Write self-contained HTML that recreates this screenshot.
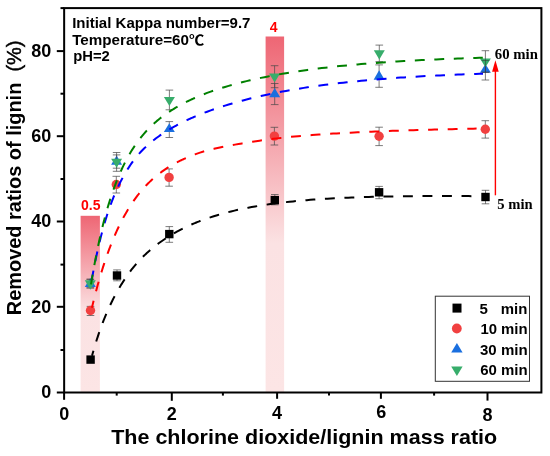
<!DOCTYPE html>
<html><head><meta charset="utf-8"><title>Removed ratios of lignin</title>
<style>html,body{margin:0;padding:0;background:#fff}svg{display:block}text{font-family:"Liberation Sans","Noto Sans CJK SC",sans-serif;font-weight:bold;fill:#000}.ser{font-family:"Liberation Serif",serif}</style></head><body>
<svg width="550" height="456" viewBox="0 0 550 456">
<defs><linearGradient id="g" x1="0" y1="0" x2="0" y2="1"><stop offset="0" stop-color="#ee6674"/><stop offset="0.58" stop-color="#fbe2e3"/><stop offset="1" stop-color="#fce5e5"/></linearGradient><linearGradient id="g2" x1="0" y1="0" x2="0" y2="1"><stop offset="0" stop-color="#ee6674"/><stop offset="0.54" stop-color="#fbe2e3"/><stop offset="1" stop-color="#fce5e5"/></linearGradient></defs>
<rect width="550" height="456" fill="#fff"/>
<rect x="80.6" y="215.8" width="19.3" height="176.7" fill="url(#g2)"/>
<rect x="265.6" y="36.5" width="18.5" height="356" fill="url(#g)"/>
<g stroke="#000" stroke-width="2" fill="none">
<rect x="64.15" y="8.1" width="477.25" height="384.4"/>
<line x1="56.8" y1="51.1" x2="64.15" y2="51.1"/>
<line x1="56.8" y1="136.2" x2="64.15" y2="136.2"/>
<line x1="56.8" y1="221.5" x2="64.15" y2="221.5"/>
<line x1="56.8" y1="306.8" x2="64.15" y2="306.8"/>
<line x1="56.8" y1="392.5" x2="64.15" y2="392.5"/>
<line x1="60.5" y1="8.1" x2="64.15" y2="8.1"/>
<line x1="60.5" y1="93.7" x2="64.15" y2="93.7"/>
<line x1="60.5" y1="179.0" x2="64.15" y2="179.0"/>
<line x1="60.5" y1="264.6" x2="64.15" y2="264.6"/>
<line x1="60.5" y1="350.0" x2="64.15" y2="350.0"/>
<line x1="64.1" y1="392.5" x2="64.1" y2="399.8"/>
<line x1="171.8" y1="392.5" x2="171.8" y2="400.8"/>
<line x1="277.1" y1="392.5" x2="277.1" y2="398.8"/>
<line x1="380.9" y1="392.5" x2="380.9" y2="398.8"/>
<line x1="487.5" y1="392.5" x2="487.5" y2="400.6"/>
<line x1="116.7" y1="392.5" x2="116.7" y2="395.6"/>
<line x1="222.9" y1="392.5" x2="222.9" y2="395.6"/>
<line x1="329" y1="392.5" x2="329" y2="395.6"/>
<line x1="434.1" y1="392.5" x2="434.1" y2="395.6"/>
</g>
<g font-size="18" text-anchor="end">
<text x="51.3" y="56.8">80</text>
<text x="51.3" y="142.0">60</text>
<text x="51.3" y="227.4">40</text>
<text x="51.3" y="312.6">20</text>
<text x="51.3" y="398.3">0</text>
</g>
<g font-size="18" text-anchor="middle">
<text x="64.2" y="419.7">0</text>
<text x="171.8" y="420.4">2</text>
<text x="277.1" y="418.5">4</text>
<text x="381.2" y="418.3">6</text>
<text x="487.6" y="420.8">8</text>
</g>
<text x="111.2" y="443.9" font-size="20.5" textLength="386" lengthAdjust="spacingAndGlyphs">The chlorine dioxide/lignin mass ratio</text>
<text transform="translate(20.8 315.2) rotate(-90)" font-size="20.4" textLength="274.6" lengthAdjust="spacingAndGlyphs" style="white-space:pre" xml:space="preserve">Removed ratios of lignin  <tspan font-weight="normal" stroke="#000" stroke-width="0.45">(%)</tspan></text>
<g font-size="14">
<text x="72.17" y="28.0" textLength="178.3" lengthAdjust="spacingAndGlyphs">Initial Kappa number=9.7</text>
<text x="72.17" y="44.8" textLength="132" lengthAdjust="spacingAndGlyphs">Temperature=60℃</text>
<text x="73.16" y="61.0" textLength="36.6" lengthAdjust="spacingAndGlyphs">pH=2</text>
<text x="90.7" y="209.5" text-anchor="middle" style="fill:#ff0000">0.5</text>
<text x="273.7" y="31.7" text-anchor="middle" style="fill:#ff0000">4</text>
</g>
<rect x="86.40" y="355.40" width="8.4" height="8.4" fill="#000"/>
<path d="M117 269.9V280.8M113.2 269.9H120.8M113.2 280.8H120.8" stroke="#484848" stroke-opacity="0.8" stroke-width="0.9" fill="none"/>
<rect x="112.80" y="271.30" width="8.4" height="8.4" fill="#000"/>
<path d="M169.3 226.6V242.3M165.5 226.6H173.10000000000002M165.5 242.3H173.10000000000002" stroke="#484848" stroke-opacity="0.8" stroke-width="0.9" fill="none"/>
<rect x="165.10" y="229.90" width="8.4" height="8.4" fill="#000"/>
<path d="M274.8 194.5V204.8M271.0 194.5H278.6M271.0 204.8H278.6" stroke="#484848" stroke-opacity="0.8" stroke-width="0.9" fill="none"/>
<rect x="270.60" y="195.90" width="8.4" height="8.4" fill="#000"/>
<path d="M379.1 186.4V198.7M375.3 186.4H382.90000000000003M375.3 198.7H382.90000000000003" stroke="#484848" stroke-opacity="0.8" stroke-width="0.9" fill="none"/>
<rect x="374.90" y="188.10" width="8.4" height="8.4" fill="#000"/>
<path d="M485.5 190.3V203.8M481.7 190.3H489.3M481.7 203.8H489.3" stroke="#484848" stroke-opacity="0.8" stroke-width="0.9" fill="none"/>
<rect x="481.30" y="192.80" width="8.4" height="8.4" fill="#000"/>
<path d="M90.5 306.4V315.5M86.7 306.4H94.3M86.7 315.5H94.3" stroke="#484848" stroke-opacity="0.8" stroke-width="0.9" fill="none"/>
<circle cx="90.5" cy="310.5" r="4.7" fill="#f14040"/>
<path d="M116.3 176.3V193M112.5 176.3H120.1M112.5 193H120.1" stroke="#484848" stroke-opacity="0.8" stroke-width="0.9" fill="none"/>
<circle cx="116.3" cy="184.5" r="4.7" fill="#f14040"/>
<path d="M169.1 168.9V186.2M165.29999999999998 168.9H172.9M165.29999999999998 186.2H172.9" stroke="#484848" stroke-opacity="0.8" stroke-width="0.9" fill="none"/>
<circle cx="169.1" cy="177.4" r="4.7" fill="#f14040"/>
<path d="M274.4 127.3V145M270.59999999999997 127.3H278.2M270.59999999999997 145H278.2" stroke="#484848" stroke-opacity="0.8" stroke-width="0.9" fill="none"/>
<circle cx="274.4" cy="136.1" r="4.7" fill="#f14040"/>
<path d="M379.1 127.2V145.6M375.3 127.2H382.90000000000003M375.3 145.6H382.90000000000003" stroke="#484848" stroke-opacity="0.8" stroke-width="0.9" fill="none"/>
<circle cx="379.1" cy="136.3" r="4.7" fill="#f14040"/>
<path d="M485.3 120.7V138.1M481.5 120.7H489.1M481.5 138.1H489.1" stroke="#484848" stroke-opacity="0.8" stroke-width="0.9" fill="none"/>
<circle cx="485.3" cy="129.3" r="4.7" fill="#f14040"/>
<path d="M90.3 279V287.8M86.5 279H94.1M86.5 287.8H94.1" stroke="#484848" stroke-opacity="0.8" stroke-width="0.9" fill="none"/>
<path d="M90.3 277.7L95.8 286.9H84.8Z" fill="#1a6fdf"/>
<path d="M116.6 152.5V168.2M112.8 152.5H120.39999999999999M112.8 168.2H120.39999999999999" stroke="#484848" stroke-opacity="0.8" stroke-width="0.9" fill="none"/>
<path d="M116.6 155.4L122.1 164.7H111.1Z" fill="#1a6fdf"/>
<path d="M169.3 121.6V137.5M165.5 121.6H173.10000000000002M165.5 137.5H173.10000000000002" stroke="#484848" stroke-opacity="0.8" stroke-width="0.9" fill="none"/>
<path d="M169.3 123.2L174.8 132H163.8Z" fill="#1a6fdf"/>
<path d="M274.7 83.5V104.6M270.9 83.5H278.5M270.9 104.6H278.5" stroke="#484848" stroke-opacity="0.8" stroke-width="0.9" fill="none"/>
<path d="M274.7 87.9L280.2 97.2H269.2Z" fill="#1a6fdf"/>
<path d="M379.1 64.9V87.3M375.3 64.9H382.90000000000003M375.3 87.3H382.90000000000003" stroke="#484848" stroke-opacity="0.8" stroke-width="0.9" fill="none"/>
<path d="M379.1 70.3L384.6 79.7H373.6Z" fill="#1a6fdf"/>
<path d="M485.4 60V80M481.59999999999997 60H489.2M481.59999999999997 80H489.2" stroke="#484848" stroke-opacity="0.8" stroke-width="0.9" fill="none"/>
<path d="M485.4 64L490.9 72.8H479.9Z" fill="#1a6fdf"/>
<path d="M90.3 279.5V288M86.5 279.5H94.1M86.5 288H94.1" stroke="#484848" stroke-opacity="0.8" stroke-width="0.9" fill="none"/>
<path d="M90.3 289.7L95.8 280.2H84.8Z" fill="#37ad6b"/>
<path d="M116.6 154.9V171.3M112.8 154.9H120.39999999999999M112.8 171.3H120.39999999999999" stroke="#484848" stroke-opacity="0.8" stroke-width="0.9" fill="none"/>
<path d="M116.6 167.7L122.1 158.7H111.1Z" fill="#37ad6b"/>
<path d="M169.4 90.1V109.8M165.6 90.1H173.20000000000002M165.6 109.8H173.20000000000002" stroke="#484848" stroke-opacity="0.8" stroke-width="0.9" fill="none"/>
<path d="M169.4 106.1L174.9 97H163.9Z" fill="#37ad6b"/>
<path d="M274.6 65.7V87.7M270.8 65.7H278.40000000000003M270.8 87.7H278.40000000000003" stroke="#484848" stroke-opacity="0.8" stroke-width="0.9" fill="none"/>
<path d="M274.6 82.5L280.1 73.6H269.1Z" fill="#37ad6b"/>
<path d="M379.3 45.1V61.6M375.5 45.1H383.1M375.5 61.6H383.1" stroke="#484848" stroke-opacity="0.8" stroke-width="0.9" fill="none"/>
<path d="M379.3 59.4L384.8 50.3H373.8Z" fill="#37ad6b"/>
<path d="M485.4 50.7V72.3M481.59999999999997 50.7H489.2M481.59999999999997 72.3H489.2" stroke="#484848" stroke-opacity="0.8" stroke-width="0.9" fill="none"/>
<path d="M485.4 67.3L490.9 58.6H479.9Z" fill="#37ad6b"/>
<path d="M485.5 58.6V72.8M481.7 60.5H489.3M481.7 72.2H489.3" stroke="#303030" stroke-opacity="0.55" stroke-width="0.9" fill="none"/>
<path d="M92.00 355.81 L92.72 353.21 L93.45 350.67 L94.17 348.19 L94.90 345.76 L95.62 343.39 L96.35 341.07 L97.07 338.80 L97.80 336.58 L98.52 334.41 L99.25 332.29 L99.97 330.21 L100.70 328.17 L101.42 326.18 L102.15 324.23 L102.87 322.32 L103.60 320.46 L104.32 318.62 L105.05 316.83 L105.77 315.07 L106.50 313.35 L107.22 311.66 L107.95 310.01 L108.67 308.39 L109.40 306.80 L110.12 305.24 L110.85 303.71 L111.57 302.21 L112.30 300.74 L113.02 299.29 L113.74 297.87 L114.47 296.48 L115.19 295.12 L115.92 293.78 L116.64 292.46 L117.37 291.17 L118.09 289.90 L118.82 288.65 L119.54 287.42 L120.27 286.22 L120.99 285.04 L121.72 283.87 L122.44 282.73 L123.17 281.61 L123.89 280.50 L124.62 279.42 L125.34 278.33 L126.07 277.25 L126.79 276.19 L127.52 275.14 L128.24 274.11 L128.97 273.10 L129.69 272.10 L130.42 271.12 L131.14 270.17 L131.87 269.23 L132.59 268.31 L133.32 267.40 L134.04 266.51 L134.77 265.64 L135.49 264.78 L136.21 263.93 L136.94 263.10 L137.66 262.29 L138.39 261.48 L139.11 260.69 L139.84 259.92 L140.56 259.16 L141.29 258.42 L142.01 257.69 L142.74 256.97 L143.46 256.26 L144.19 255.56 L144.91 254.87 L145.64 254.18 L146.36 253.51 L147.09 252.85 L147.81 252.19 L148.54 251.55 L149.26 250.91 L149.99 250.28 L150.71 249.66 L151.44 249.04 L152.16 248.44 L152.89 247.84 L153.61 247.25 L154.34 246.67 L155.06 246.09 L155.79 245.52 L156.51 244.96 L157.23 244.41 L157.96 243.86 L158.68 243.32 L159.41 242.79 L160.13 242.26 L160.86 241.74 L161.58 241.23 L162.31 240.72 L163.03 240.22 L163.76 239.72 L164.48 239.23 L165.21 238.75 L165.93 238.27 L166.66 237.80 L167.38 237.33 L168.11 236.87 L168.83 236.42 L169.56 235.97 L170.28 235.52 L171.01 235.08 L171.73 234.65 L172.46 234.22 L173.18 233.79 L173.91 233.37 L174.63 232.96 L175.36 232.55 L176.08 232.14 L176.81 231.74 L177.53 231.35 L178.26 230.95 L178.98 230.57 L179.70 230.18 L180.43 229.81 L181.15 229.43 L181.88 229.06 L182.60 228.70 L183.33 228.33 L184.05 227.98 L184.78 227.62 L185.50 227.27 L186.23 226.93 L186.95 226.59 L187.68 226.25 L188.40 225.91 L189.13 225.58 L189.85 225.25 L190.58 224.93 L191.30 224.61 L192.03 224.29 L192.75 223.98 L193.48 223.67 L194.20 223.37 L194.93 223.06 L195.65 222.76 L196.38 222.47 L197.10 222.17 L197.83 221.88 L198.55 221.60 L199.28 221.31 L200.00 221.03 L203.45 219.74 L206.89 218.51 L210.34 217.34 L213.78 216.23 L217.23 215.18 L220.67 214.17 L224.12 213.22 L227.56 212.31 L231.01 211.44 L234.46 210.62 L237.90 209.84 L241.35 209.09 L244.79 208.39 L248.24 207.71 L251.68 207.07 L255.13 206.46 L258.57 205.88 L262.02 205.32 L265.47 204.79 L268.91 204.29 L272.36 203.81 L275.80 203.36 L279.25 202.93 L282.69 202.51 L286.14 202.12 L289.58 201.75 L293.03 201.39 L296.48 201.06 L299.92 200.74 L303.37 200.43 L306.81 200.14 L310.26 199.87 L313.70 199.61 L317.15 199.37 L320.59 199.13 L324.04 198.91 L327.49 198.70 L330.93 198.50 L334.38 198.32 L337.82 198.14 L341.27 197.97 L344.71 197.81 L348.16 197.66 L351.61 197.53 L355.05 197.40 L358.50 197.27 L361.94 197.15 L365.39 197.04 L368.83 196.94 L372.28 196.85 L375.72 196.76 L379.17 196.68 L382.62 196.61 L386.06 196.53 L389.51 196.46 L392.95 196.41 L396.40 196.36 L399.84 196.31 L403.29 196.27 L406.73 196.23 L410.18 196.19 L413.63 196.15 L417.07 196.13 L420.52 196.11 L423.96 196.09 L427.41 196.08 L430.85 196.06 L434.30 196.05 L437.74 196.04 L441.19 196.04 L444.64 196.04 L448.08 196.05 L451.53 196.05 L454.97 196.06 L458.42 196.08 L461.86 196.09 L465.31 196.10 L468.75 196.12 L472.20 196.13" fill="none" stroke="#000000" stroke-width="2.0" stroke-dasharray="9.9 9.622" stroke-dashoffset="4.57"/>
<path d="M91.90 307.71 L92.63 304.68 L93.35 301.71 L94.08 298.80 L94.80 295.95 L95.53 293.15 L96.25 290.40 L96.98 287.70 L97.70 285.06 L98.43 282.47 L99.16 279.92 L99.88 277.43 L100.61 274.98 L101.33 272.57 L102.06 270.22 L102.78 267.91 L103.51 265.64 L104.23 263.41 L104.96 261.23 L105.68 259.09 L106.41 256.98 L107.14 254.92 L107.86 252.90 L108.59 250.91 L109.31 248.96 L110.04 247.05 L110.76 245.17 L111.49 243.33 L112.21 241.52 L112.94 239.75 L113.67 238.01 L114.39 236.30 L115.12 234.63 L115.84 232.98 L116.57 231.37 L117.29 229.78 L118.02 228.22 L118.74 226.70 L119.47 225.20 L120.19 223.73 L120.92 222.28 L121.65 220.87 L122.37 219.47 L123.10 218.11 L123.82 216.77 L124.55 215.45 L125.27 214.16 L126.00 212.89 L126.72 211.64 L127.45 210.42 L128.18 209.21 L128.90 208.03 L129.63 206.88 L130.35 205.74 L131.08 204.62 L131.80 203.52 L132.53 202.45 L133.25 201.39 L133.98 200.35 L134.70 199.33 L135.43 198.33 L136.16 197.34 L136.88 196.37 L137.61 195.42 L138.33 194.49 L139.06 193.57 L139.78 192.67 L140.51 191.79 L141.23 190.92 L141.96 190.07 L142.69 189.24 L143.41 188.42 L144.14 187.61 L144.86 186.82 L145.59 186.04 L146.31 185.27 L147.04 184.52 L147.76 183.78 L148.49 183.05 L149.21 182.34 L149.94 181.64 L150.67 180.95 L151.39 180.27 L152.12 179.61 L152.84 178.95 L153.57 178.31 L154.29 177.67 L155.02 177.05 L155.74 176.44 L156.47 175.84 L157.20 175.25 L157.92 174.67 L158.65 174.10 L159.37 173.53 L160.10 172.98 L160.82 172.44 L161.55 171.90 L162.27 171.38 L163.00 170.86 L163.72 170.35 L164.45 169.85 L165.18 169.36 L165.90 168.88 L166.63 168.40 L167.35 167.93 L168.08 167.47 L168.80 167.02 L169.53 166.57 L170.25 166.13 L170.98 165.69 L171.71 165.27 L172.43 164.84 L173.16 164.43 L173.88 164.02 L174.61 163.62 L175.33 163.22 L176.06 162.83 L176.78 162.45 L177.51 162.07 L178.23 161.70 L178.96 161.33 L179.69 160.97 L180.41 160.61 L181.14 160.26 L181.86 159.92 L182.59 159.58 L183.31 159.24 L184.04 158.91 L184.76 158.59 L185.49 158.27 L186.22 157.95 L186.94 157.64 L187.67 157.33 L188.39 157.03 L189.12 156.74 L189.84 156.44 L190.57 156.15 L191.29 155.87 L192.02 155.59 L192.74 155.29 L193.47 155.00 L194.20 154.71 L194.92 154.43 L195.65 154.15 L196.37 153.88 L197.10 153.62 L197.82 153.36 L198.55 153.11 L199.27 152.86 L200.00 152.61 L203.50 151.51 L207.00 150.52 L210.50 149.64 L214.01 148.82 L217.51 148.03 L221.01 147.29 L224.51 146.59 L228.01 145.93 L231.51 145.26 L235.01 144.63 L238.51 144.03 L242.02 143.45 L245.52 142.85 L249.02 142.28 L252.52 141.74 L256.02 141.21 L259.52 140.68 L263.02 140.18 L266.52 139.70 L270.03 139.23 L273.53 138.79 L277.03 138.37 L280.53 137.97 L284.03 137.58 L287.53 137.21 L291.03 136.86 L294.53 136.53 L298.04 136.21 L301.54 135.89 L305.04 135.59 L308.54 135.31 L312.04 135.04 L315.54 134.78 L319.04 134.53 L322.54 134.28 L326.05 134.05 L329.55 133.83 L333.05 133.61 L336.55 133.41 L340.05 133.20 L343.55 133.01 L347.05 132.82 L350.55 132.64 L354.06 132.46 L357.56 132.29 L361.06 132.13 L364.56 131.97 L368.06 131.81 L371.56 131.66 L375.06 131.52 L378.56 131.38 L382.07 131.24 L385.57 131.11 L389.07 130.98 L392.57 130.85 L396.07 130.73 L399.57 130.61 L403.07 130.50 L406.57 130.38 L410.08 130.28 L413.58 130.17 L417.08 130.07 L420.58 129.96 L424.08 129.86 L427.58 129.77 L431.08 129.67 L434.58 129.58 L438.09 129.49 L441.59 129.40 L445.09 129.31 L448.59 129.23 L452.09 129.14 L455.59 129.06 L459.09 128.98 L462.59 128.90 L466.10 128.83 L469.60 128.75 L473.10 128.68 L476.60 128.61" fill="none" stroke="#ff0000" stroke-width="2.0" stroke-dasharray="9.9 9.708" stroke-dashoffset="2.65"/>
<path d="M90.80 285.35 L91.53 281.13 L92.27 277.02 L93.00 273.04 L93.73 269.17 L94.46 265.41 L95.20 261.77 L95.93 258.22 L96.66 254.78 L97.40 251.44 L98.13 248.19 L98.86 245.03 L99.59 241.96 L100.33 238.98 L101.06 236.08 L101.79 233.26 L102.53 230.52 L103.26 227.85 L103.99 225.26 L104.72 222.73 L105.46 220.28 L106.19 217.89 L106.92 215.56 L107.66 213.30 L108.39 211.09 L109.12 208.95 L109.86 206.86 L110.59 204.82 L111.32 202.84 L112.05 200.91 L112.79 199.03 L113.52 197.19 L114.25 195.40 L114.99 193.66 L115.72 191.96 L116.45 190.30 L117.18 188.68 L117.92 187.10 L118.65 185.56 L119.38 184.06 L120.12 182.59 L120.85 181.16 L121.58 179.76 L122.31 178.39 L123.05 177.06 L123.78 175.75 L124.51 174.48 L125.25 173.22 L125.98 171.96 L126.71 170.73 L127.44 169.53 L128.18 168.36 L128.91 167.21 L129.64 166.10 L130.38 165.00 L131.11 163.94 L131.84 162.89 L132.57 161.88 L133.31 160.88 L134.04 159.90 L134.77 158.95 L135.51 158.01 L136.24 157.10 L136.97 156.21 L137.70 155.33 L138.44 154.47 L139.17 153.63 L139.90 152.81 L140.64 152.02 L141.37 151.25 L142.10 150.50 L142.83 149.75 L143.57 149.03 L144.30 148.31 L145.03 147.61 L145.77 146.92 L146.50 146.24 L147.23 145.57 L147.97 144.91 L148.70 144.26 L149.43 143.63 L150.16 143.00 L150.90 142.39 L151.63 141.78 L152.36 141.18 L153.10 140.59 L153.83 140.01 L154.56 139.44 L155.29 138.88 L156.03 138.32 L156.76 137.78 L157.49 137.24 L158.23 136.71 L158.96 136.19 L159.69 135.67 L160.42 135.16 L161.16 134.66 L161.89 134.16 L162.62 133.67 L163.36 133.19 L164.09 132.71 L164.82 132.24 L165.55 131.78 L166.29 131.32 L167.02 130.87 L167.75 130.42 L168.49 129.98 L169.22 129.54 L169.95 129.11 L170.68 128.67 L171.42 128.24 L172.15 127.82 L172.88 127.40 L173.62 126.99 L174.35 126.58 L175.08 126.17 L175.81 125.77 L176.55 125.37 L177.28 124.98 L178.01 124.59 L178.75 124.20 L179.48 123.82 L180.21 123.44 L180.94 123.07 L181.68 122.70 L182.41 122.33 L183.14 121.97 L183.88 121.61 L184.61 121.26 L185.34 120.90 L186.08 120.55 L186.81 120.21 L187.54 119.86 L188.27 119.52 L189.01 119.19 L189.74 118.85 L190.47 118.52 L191.21 118.20 L191.94 117.87 L192.67 117.55 L193.40 117.23 L194.14 116.91 L194.87 116.60 L195.60 116.29 L196.34 115.98 L197.07 115.67 L197.80 115.37 L198.53 115.07 L199.27 114.77 L200.00 114.47 L203.58 113.06 L207.16 111.70 L210.75 110.38 L214.33 109.12 L217.91 107.90 L221.49 106.72 L225.08 105.58 L228.66 104.48 L232.24 103.42 L235.82 102.38 L239.41 101.39 L242.99 100.42 L246.57 99.49 L250.15 98.58 L253.73 97.70 L257.32 96.85 L260.90 96.02 L264.48 95.22 L268.06 94.45 L271.65 93.70 L275.23 92.97 L278.81 92.26 L282.39 91.58 L285.97 90.91 L289.56 90.27 L293.14 89.64 L296.72 89.04 L300.30 88.45 L303.89 87.88 L307.47 87.33 L311.05 86.79 L314.63 86.27 L318.22 85.77 L321.80 85.28 L325.38 84.81 L328.96 84.35 L332.54 83.90 L336.13 83.47 L339.71 83.05 L343.29 82.65 L346.87 82.25 L350.46 81.87 L354.04 81.50 L357.62 81.15 L361.20 80.80 L364.78 80.46 L368.37 80.14 L371.95 79.82 L375.53 79.51 L379.11 79.22 L382.70 78.93 L386.28 78.65 L389.86 78.38 L393.44 78.12 L397.03 77.87 L400.61 77.62 L404.19 77.38 L407.77 77.16 L411.35 76.93 L414.94 76.72 L418.52 76.51 L422.10 76.30 L425.68 76.11 L429.27 75.92 L432.85 75.74 L436.43 75.56 L440.01 75.39 L443.59 75.22 L447.18 75.06 L450.76 74.91 L454.34 74.76 L457.92 74.61 L461.51 74.48 L465.09 74.34 L468.67 74.21 L472.25 74.08 L475.84 73.96 L479.42 73.84 L483.00 73.73" fill="none" stroke="#0000ff" stroke-width="2.0" stroke-dasharray="9.9 9.634" stroke-dashoffset="-5.0"/>
<path d="M90.30 288.62 L91.04 284.08 L91.77 279.65 L92.51 275.34 L93.24 271.15 L93.98 267.06 L94.72 263.08 L95.45 259.21 L96.19 255.43 L96.93 251.75 L97.66 248.17 L98.40 244.68 L99.13 241.27 L99.87 237.96 L100.61 234.72 L101.34 231.57 L102.08 228.50 L102.82 225.51 L103.55 222.59 L104.29 219.75 L105.02 216.97 L105.76 214.27 L106.50 211.63 L107.23 209.05 L107.97 206.54 L108.71 204.09 L109.44 201.70 L110.18 199.37 L110.91 197.09 L111.65 194.87 L112.39 192.70 L113.12 190.58 L113.86 188.52 L114.60 186.50 L115.33 184.53 L116.07 182.60 L116.80 180.72 L117.54 178.88 L118.28 177.09 L119.01 175.33 L119.75 173.62 L120.49 171.95 L121.22 170.31 L121.96 168.71 L122.69 167.14 L123.43 165.61 L124.17 164.12 L124.90 162.65 L125.64 161.22 L126.38 159.82 L127.11 158.45 L127.85 157.11 L128.58 155.80 L129.32 154.51 L130.06 153.25 L130.79 152.02 L131.53 150.82 L132.27 149.64 L133.00 148.48 L133.74 147.35 L134.47 146.23 L135.21 145.15 L135.95 144.08 L136.68 143.04 L137.42 142.01 L138.16 141.01 L138.89 140.02 L139.63 139.06 L140.36 138.11 L141.10 137.19 L141.84 136.29 L142.57 135.40 L143.31 134.53 L144.05 133.67 L144.78 132.83 L145.52 132.01 L146.25 131.20 L146.99 130.41 L147.73 129.63 L148.46 128.86 L149.20 128.11 L149.94 127.37 L150.67 126.65 L151.41 125.93 L152.14 125.23 L152.88 124.54 L153.62 123.86 L154.35 123.20 L155.09 122.54 L155.83 121.90 L156.56 121.26 L157.30 120.64 L158.03 120.02 L158.77 119.42 L159.51 118.83 L160.24 118.24 L160.98 117.66 L161.72 117.10 L162.45 116.54 L163.19 115.99 L163.92 115.45 L164.66 114.91 L165.40 114.39 L166.13 113.87 L166.87 113.36 L167.61 112.85 L168.34 112.36 L169.08 111.87 L169.81 111.38 L170.55 110.90 L171.29 110.43 L172.02 109.96 L172.76 109.49 L173.50 109.03 L174.23 108.58 L174.97 108.14 L175.70 107.70 L176.44 107.26 L177.18 106.83 L177.91 106.41 L178.65 105.99 L179.39 105.58 L180.12 105.17 L180.86 104.77 L181.59 104.37 L182.33 103.98 L183.07 103.59 L183.80 103.20 L184.54 102.82 L185.28 102.45 L186.01 102.08 L186.75 101.71 L187.48 101.35 L188.22 100.99 L188.96 100.63 L189.69 100.28 L190.43 99.93 L191.17 99.59 L191.90 99.25 L192.64 98.92 L193.37 98.58 L194.11 98.25 L194.85 97.93 L195.58 97.61 L196.32 97.29 L197.06 96.97 L197.79 96.66 L198.53 96.35 L199.26 96.05 L200.00 95.74 L203.58 94.31 L207.16 92.94 L210.74 91.64 L214.32 90.39 L217.90 89.19 L221.48 88.04 L225.06 86.93 L228.64 85.87 L232.22 84.85 L235.80 83.86 L239.38 82.92 L242.96 82.00 L246.54 81.12 L250.12 80.27 L253.70 79.45 L257.28 78.66 L260.86 77.89 L264.44 77.15 L268.02 76.44 L271.59 75.74 L275.17 75.07 L278.75 74.43 L282.33 73.80 L285.91 73.19 L289.49 72.61 L293.07 72.04 L296.65 71.49 L300.23 70.96 L303.81 70.44 L307.39 69.94 L310.97 69.46 L314.55 68.99 L318.13 68.53 L321.71 68.09 L325.29 67.67 L328.87 67.26 L332.45 66.86 L336.03 66.47 L339.61 66.09 L343.19 65.73 L346.77 65.38 L350.35 65.04 L353.93 64.71 L357.51 64.39 L361.09 64.08 L364.67 63.78 L368.25 63.49 L371.83 63.20 L375.41 62.93 L378.99 62.67 L382.57 62.41 L386.15 62.16 L389.73 61.92 L393.31 61.68 L396.89 61.46 L400.47 61.24 L404.05 61.03 L407.63 60.82 L411.21 60.62 L414.78 60.43 L418.36 60.24 L421.94 60.06 L425.52 59.88 L429.10 59.71 L432.68 59.55 L436.26 59.39 L439.84 59.23 L443.42 59.08 L447.00 58.93 L450.58 58.79 L454.16 58.66 L457.74 58.52 L461.32 58.40 L464.90 58.27 L468.48 58.15 L472.06 58.03 L475.64 57.92 L479.22 57.81 L482.80 57.70" fill="none" stroke="#008000" stroke-width="2.0" stroke-dasharray="9.9 9.600" stroke-dashoffset="-4.29"/>
<path d="M495.4 195.3V70" stroke="#ff0000" stroke-width="1.4" fill="none"/><path d="M495.4 60.2L498.7 71.7H492.1Z" fill="#ff0000"/>
<text class="ser" x="494.8" y="58.7" font-size="15.2" textLength="43.1" lengthAdjust="spacingAndGlyphs">60 min</text>
<text class="ser" x="497.3" y="209.2" font-size="14.6">5 min</text>
<rect x="435.3" y="296.2" width="94.2" height="85.1" fill="#fff" stroke="#333" stroke-width="1"/>
<rect x="452.50" y="303.60" width="9" height="9" fill="#000"/>
<circle cx="456.8" cy="328.5" r="4.9" fill="#f14040"/>
<path d="M456.9 343.1L462.59999999999997 352.5H451.2Z" fill="#1a6fdf"/>
<path d="M456.9 376.1L462.59999999999997 366.6H451.2Z" fill="#37ad6b"/>
<g font-size="14">
<text x="479.6" y="313.7" textLength="8.4" lengthAdjust="spacingAndGlyphs">5</text><text x="500.7" y="313.7" textLength="26.6" lengthAdjust="spacingAndGlyphs">min</text>
<text x="480.4" y="334" textLength="47.2" lengthAdjust="spacingAndGlyphs">10 min</text>
<text x="480.0" y="354.7" textLength="47.6" lengthAdjust="spacingAndGlyphs">30 min</text>
<text x="480.2" y="375.4" textLength="47.4" lengthAdjust="spacingAndGlyphs">60 min</text>
</g>
</svg></body></html>
